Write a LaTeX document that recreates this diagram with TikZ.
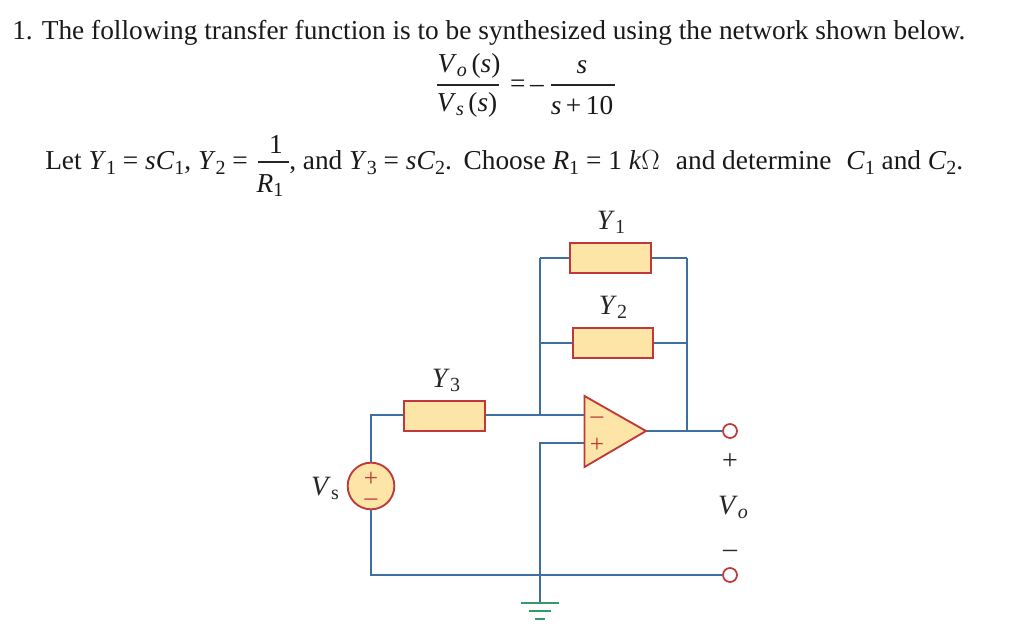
\documentclass[tikz,border=0pt]{standalone}
\usepackage{fontspec}
\setmainfont{Liberation Serif}
\definecolor{wireblue}{HTML}{3F6F9F}
\definecolor{boxred}{HTML}{C0383A}
\definecolor{boxfill}{HTML}{FDE5A8}
\definecolor{gndgreen}{HTML}{35996A}
\newcommand{\sbs}[1]{\raisebox{-0.32ex}{\fontsize{15}{15}\selectfont #1}}
\newcommand{\itsbs}[1]{\raisebox{-0.32ex}{\fontsize{15}{15}\selectfont\itshape #1}}
\newcommand{\setup}{
    \coordinate (ltop) at (540,258);
    \coordinate (rtop) at (687,258);
    \coordinate (lmid) at (540,343);
    \coordinate (rmid) at (687,343);
    \coordinate (inm) at (584.5,415);
    \coordinate (inp) at (584.5,443);
    \coordinate (jinm) at (540,415);
    \coordinate (jinp) at (540,443);
    \coordinate (oatop) at (584.5,396);
    \coordinate (oabot) at (584.5,467);
    \coordinate (oatip) at (646,431);
    \coordinate (jout) at (687,431);
    \coordinate (cnr) at (371,415);
    \coordinate (cnrb) at (371,575);
    \coordinate (jgnd) at (540,575);
    \coordinate (gnd) at (540,603);
}
\tikzset{
    wire/.style={line width=1.4pt,wireblue},
    admbox/.style={draw=boxred,fill=boxfill,line width=1.4pt,minimum width=60.5pt,minimum height=22pt,inner sep=0pt},
    term/.style={circle,draw=boxred,fill=white,line width=1.3pt,minimum size=10.5pt,inner sep=0pt},
    srcnode/.style={circle,draw=boxred,fill=boxfill,line width=1.4pt,minimum size=35pt,inner sep=0pt},
    txt/.style={inner sep=0pt,font=\fontsize{20.5}{20.5}\selectfont,text=black!90},
    lbl/.style={inner sep=0pt,font=\fontsize{21}{21}\selectfont,text=black!85},
    frule/.style={line width=0.9pt,black!85},
    gndline/.style={line width=1.5pt,gndgreen},
    signred/.style={inner sep=0pt,text=boxred,font=\fontsize{19}{14.5}\selectfont},
}
\begin{document}
\begin{tikzpicture}[x=0.75pt,y=-0.75pt]
    \useasboundingbox (0,0) rectangle (1016,627);
    \setup;

    % problem text
    \node[txt,anchor=base west] (title) at (12,40) {1. The following transfer function is to be synthesized using the network shown below.};
    \node[txt] (vonum) at (469,66) {\textit{V}\itsbs{o}\,(\textit{s})};
    \node[txt] (vsden) at (467,105) {\textit{V}\itsbs{s}\,(\textit{s})};
    \node[txt] (eqm) at (527,86) {=\,–};
    \node[txt] (snum) at (582,67) {\textit{s}};
    \node[txt] (sden) at (582,106) {\textit{s}\,+\,10};
    \draw[frule] (437,85) -- (499,85);
    \draw[frule] (551,85) -- (615,85);

    \node[txt,anchor=base west] (letl) at (45,170) {Let \textit{Y}\sbs{1} = \textit{sC}\sbs{1}, \textit{Y}\sbs{2} =};
    \node[txt] (onenum) at (276,144) {1};
    \node[txt] (rden) at (270,186) {\textit{R}\sbs{1}};
    \draw[frule] (258,162) -- (289,162);
    \node[txt,anchor=base west] (letr) at (289,170) {, and \textit{Y}\sbs{3} = \textit{sC}\sbs{2}.\hspace{2pt} Choose \textit{R}\sbs{1} = 1 \textit{k}$\Omega$\hspace{7pt} and determine\hspace{6pt} \textit{C}\sbs{1} and \textit{C}\sbs{2}.};

    % wires
    \draw[wire] (ltop) -- (jinm) -- (inm);
    \draw[wire] (rtop) -- (jout);
    \draw[wire] (lmid) -- (rmid);
    \draw[wire] (ltop) -- (rtop);
    \draw[wire] (inp) -- (jinp) -- (gnd);
    \draw[wire] (oatip) -- (jout);
    \draw[wire] (jinm) -- (cnr) -- (cnrb) -- (jgnd);

    \node[admbox] (y1) at (610.5,258) {};
    \node[admbox] (y2) at (613,343) {};
    \node[admbox] (y3) at (444.5,416) {};
    \node[lbl] (y1l) at (611,222) {\textit{Y}\sbs{1}};
    \node[lbl] (y2l) at (613,307) {\textit{Y}\sbs{2}};
    \node[lbl] (y3l) at (446,380) {\textit{Y}\sbs{3}};

    % op amp
    \draw[draw=boxred,fill=boxfill,line width=1.4pt,line join=miter] (oatop) -- (oatip) -- (oabot) -- cycle;
    \node[signred] (opm) at (597,420) {–};
    \node[signred] (opp) at (597,445.5) {+};

    % source
    \node[srcnode] (vs) at (371,486) {};
    \node[signred,align=center] (vssign) at (371,489) {+\\–};
    \node[lbl] (vsl) at (325,488) {\textit{V}\sbs{s}};

    % output
    \node[term] (to) at (730,431) {};
    \node[term] (bo) at (730,575) {};
    \draw[wire] (jout) -- (to);
    \draw[wire] (jgnd) -- (bo);
    \node[lbl] (plus) at (730,462) {+};
    \node[lbl] (vol) at (733,507) {\textit{V}\itsbs{o}};
    \node[lbl] (minus) at (730,554) {–};

    % ground
    \draw[gndline] ([xshift=-14.5pt]gnd) -- ([xshift=14.5pt]gnd);
    \draw[gndline] ([xshift=-8.5pt,yshift=-6pt]gnd) -- ([xshift=8.5pt,yshift=-6pt]gnd);
    \draw[gndline] ([xshift=-4pt,yshift=-12pt]gnd) -- ([xshift=4pt,yshift=-12pt]gnd);
\end{tikzpicture}
\end{document}
